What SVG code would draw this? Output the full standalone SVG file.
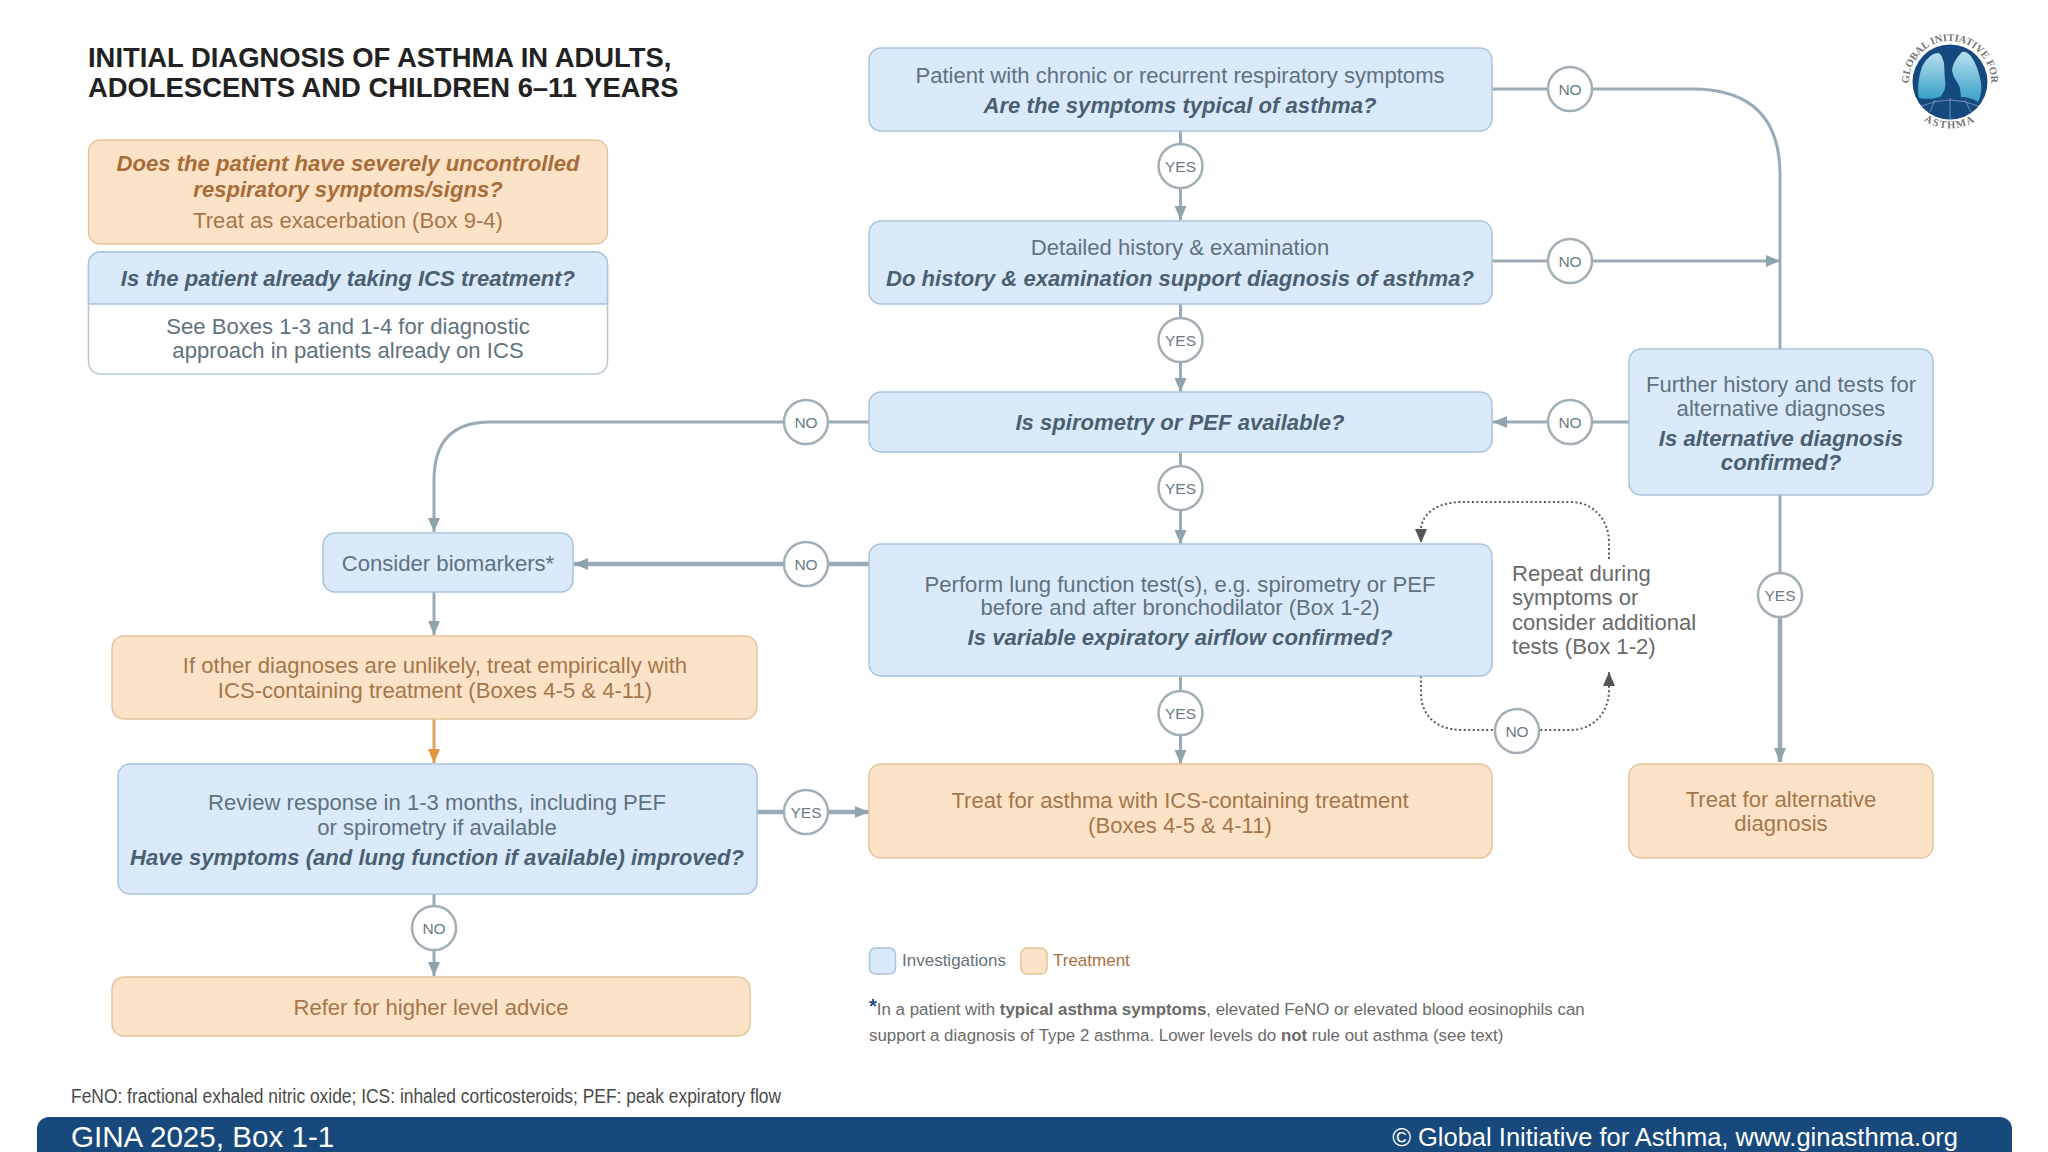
<svg xmlns="http://www.w3.org/2000/svg" width="2048" height="1152" viewBox="0 0 2048 1152">
<style>
text{font-family:"Liberation Sans",Arial,sans-serif}
.b{fill:#daeafa;stroke:#a9c3da;stroke-width:1.5}
.o{fill:#fce3c8;stroke:#e5c49b;stroke-width:1.5}
.t{font-size:22.1px;fill:#5f7280;text-anchor:middle}
.q{font-size:22.1px;fill:#4a5f72;text-anchor:middle;font-weight:bold;font-style:italic}
.ot{font-size:22.1px;fill:#a5764c;text-anchor:middle}
.oq{font-size:22.1px;fill:#a86c38;text-anchor:middle;font-weight:bold;font-style:italic}
.c{fill:#fff;stroke:#a3afb6;stroke-width:2.5}
.cl{font-size:15.5px;fill:#6a7a85;text-anchor:middle}
.l{fill:none;stroke:#9aabb5;stroke-width:3}
.l4{fill:none;stroke:#9aabb5;stroke-width:4.5}
.d{fill:none;stroke:#5a5a5a;stroke-width:2;stroke-dasharray:2 2.5}
.lg{font-size:10.5px;font-family:"Liberation Serif",serif;fill:#777;font-weight:bold}
.rp{font-size:22.1px;fill:#6a6a6a}
</style>
<defs>
<marker id="a" markerWidth="16" markerHeight="14" refX="14" refY="7" markerUnits="userSpaceOnUse" orient="auto"><path d="M0 1L14 7L0 13Z" fill="#8fa3ae"/></marker>
<marker id="ao" markerWidth="16" markerHeight="14" refX="14" refY="7" markerUnits="userSpaceOnUse" orient="auto"><path d="M0 1L14 7L0 13Z" fill="#e3973a"/></marker>
<marker id="ad" markerWidth="16" markerHeight="14" refX="14" refY="7" markerUnits="userSpaceOnUse" orient="auto"><path d="M0 1L14 7L0 13Z" fill="#555"/></marker>
<linearGradient id="lung" x1="0" y1="0" x2="0" y2="1"><stop offset="0" stop-color="#b9e0f0"/><stop offset="1" stop-color="#37a0c8"/></linearGradient>
<path id="arcTop" d="M1910.400 92.600A41 41 0 1 1 1989.600 92.600"/>
<path id="arcBot" d="M1905 95A47 47 0 0 0 1995 95"/>
</defs>
<rect width="2048" height="1152" fill="#fff"/>
<g id="title"><text x="88" y="67" font-size="27.400" font-weight="bold" fill="#222">INITIAL DIAGNOSIS OF ASTHMA IN ADULTS,</text><text x="88" y="97" font-size="27.400" font-weight="bold" fill="#222">ADOLESCENTS AND CHILDREN 6–11 YEARS</text></g>
<g id="logo"><circle cx="1950" cy="82" r="37.500" fill="#15497f"/>
<path d="M1938 53C1932 53 1925 60 1922 67C1919 75 1917 88 1919 98C1928 100 1936 98 1940 97C1945 92 1946 86 1945 80C1944 70 1945 64 1943 60C1942 56 1940 53 1938 53Z" fill="url(#lung)"/>
<path d="M1962 52C1957 57 1953 63 1952 70C1953 78 1958 82 1960 88L1961 97C1967 97 1974 99 1978 102C1982 95 1982 85 1980 78C1978 68 1974 60 1970 55C1967 52 1964 51 1962 52Z" fill="url(#lung)"/>
<path d="M1922 106Q1950 94 1978 106M1935 100L1930 112M1950 98V119M1965 100L1971 112" fill="none" stroke="#8fb2cf" stroke-width="0.700"/>
<text class="lg"><textPath href="#arcTop" startOffset="50%" text-anchor="middle">GLOBAL INITIATIVE FOR</textPath></text>
<text class="lg" letter-spacing="1.500"><textPath href="#arcBot" startOffset="50%" text-anchor="middle">ASTHMA</textPath></text></g>
<g id="connectors">
<path class="l" d="M1492 89H1692Q1780 89 1780 175V349"/>
<path class="l" d="M1492 261H1780" marker-end="url(#a)"/>
<path class="l" d="M1629 422H1493" marker-end="url(#a)"/>
<path class="l" d="M1780 495V572"/><path class="l4" d="M1780 618V762" marker-end="url(#a)"/>
<path class="l" d="M1180.500 131V220" marker-end="url(#a)"/>
<path class="l" d="M1180.500 304V392" marker-end="url(#a)"/>
<path class="l" d="M1180.500 452V544" marker-end="url(#a)"/>
<path class="l" d="M1180.500 676V764" marker-end="url(#a)"/>
<path class="l" d="M869 422H490Q434 422 434 480V532" marker-end="url(#a)"/>
<path class="l4" d="M869 564H574" marker-end="url(#a)"/>
<path class="l" d="M434 592V635" marker-end="url(#a)"/>
<path d="M434 719V763" fill="none" stroke="#e0a060" stroke-width="3" marker-end="url(#ao)"/>
<path class="l4" d="M757 812H869" marker-end="url(#a)"/>
<path class="l" d="M434 894V976" marker-end="url(#a)"/>
<path class="d" d="M1609 559V543C1609 520 1594 502 1570 502H1462C1436 502 1421 515 1421 530V543" marker-end="url(#ad)"/>
<path class="d" d="M1421 676V693C1421 715 1436 730 1462 730H1570C1594 730 1609 712 1609 690V672" marker-end="url(#ad)"/>
</g>
<g id="n-severe"><rect class="o" x="88.500" y="140" width="519" height="104" rx="12"/><text class="oq" x="348" y="171">Does the patient have severely uncontrolled</text><text class="oq" x="348" y="197">respiratory symptoms/signs?</text><text class="ot" x="348" y="228">Treat as exacerbation (Box 9-4)</text></g>
<g id="n-ics"><rect x="88.500" y="252" width="519" height="122" rx="12" fill="#fff" stroke="#b9c7d2" stroke-width="1.500"/><path class="b" d="M88.500 304V264a12 12 0 0 1 12-12H595.500a12 12 0 0 1 12 12V304Z"/><text class="q" x="348" y="286">Is the patient already taking ICS treatment?</text><text class="t" x="348" y="334">See Boxes 1-3 and 1-4 for diagnostic</text><text class="t" x="348" y="358">approach in patients already on ICS</text></g>
<g id="n-symptoms"><rect class="b" x="869" y="48" width="623" height="83" rx="12"/><text class="t" x="1180" y="83">Patient with chronic or recurrent respiratory symptoms</text><text class="q" x="1180" y="113">Are the symptoms typical of asthma?</text></g>
<g id="n-history"><rect class="b" x="869" y="221" width="623" height="83" rx="12"/><text class="t" x="1180" y="255">Detailed history &amp; examination</text><text class="q" x="1180" y="286">Do history &amp; examination support diagnosis of asthma?</text></g>
<g id="n-spiro"><rect class="b" x="869" y="392" width="623" height="60" rx="12"/><text class="q" x="1180" y="430">Is spirometry or PEF available?</text></g>
<g id="n-lung"><rect class="b" x="869" y="544" width="623" height="132" rx="12"/><text class="t" x="1180" y="592">Perform lung function test(s), e.g. spirometry or PEF</text><text class="t" x="1180" y="615">before and after bronchodilator (Box 1-2)</text><text class="q" x="1180" y="645">Is variable expiratory airflow confirmed?</text></g>
<g id="n-alt"><rect class="b" x="1629" y="349" width="304" height="146" rx="12"/><text class="t" x="1781" y="392">Further history and tests for</text><text class="t" x="1781" y="416">alternative diagnoses</text><text class="q" x="1781" y="446">Is alternative diagnosis</text><text class="q" x="1781" y="470">confirmed?</text></g>
<g id="n-biomarkers"><rect class="b" x="323" y="533" width="250" height="59" rx="12"/><text class="t" x="448" y="571">Consider biomarkers*</text></g>
<g id="n-empiric"><rect class="o" x="112" y="636" width="645" height="83" rx="12"/><text class="ot" x="435" y="673">If other diagnoses are unlikely, treat empirically with</text><text class="ot" x="435" y="698">ICS-containing treatment (Boxes 4-5 &amp; 4-11)</text></g>
<g id="n-review"><rect class="b" x="118" y="764" width="639" height="130" rx="12"/><text class="t" x="437" y="810">Review response in 1-3 months, including PEF</text><text class="t" x="437" y="835">or spirometry if available</text><text class="q" x="437" y="865">Have symptoms (and lung function if available) improved?</text></g>
<g id="n-treat"><rect class="o" x="869" y="764" width="623" height="94" rx="12"/><text class="ot" x="1180" y="808">Treat for asthma with ICS-containing treatment</text><text class="ot" x="1180" y="833">(Boxes 4-5 &amp; 4-11)</text></g>
<g id="n-treatalt"><rect class="o" x="1629" y="764" width="304" height="94" rx="12"/><text class="ot" x="1781" y="807">Treat for alternative</text><text class="ot" x="1781" y="831">diagnosis</text></g>
<g id="n-refer"><rect class="o" x="112" y="977" width="638" height="59" rx="12"/><text class="ot" x="431" y="1015">Refer for higher level advice</text></g>
<g id="n-repeat"><text class="rp" x="1512" y="581">Repeat during</text><text class="rp" x="1512" y="605">symptoms or</text><text class="rp" x="1512" y="630">consider additional</text><text class="rp" x="1512" y="654">tests (Box 1-2)</text></g>
<g id="labels">
<g id="c1"><circle class="c" cx="1570" cy="89" r="22"/><text class="cl" x="1570" y="94.500">NO</text></g>
<g id="c2"><circle class="c" cx="1570" cy="261" r="22"/><text class="cl" x="1570" y="266.500">NO</text></g>
<g id="c3"><circle class="c" cx="1570" cy="422" r="22"/><text class="cl" x="1570" y="427.500">NO</text></g>
<g id="c4"><circle class="c" cx="1180.500" cy="166" r="22"/><text class="cl" x="1180.500" y="171.500">YES</text></g>
<g id="c5"><circle class="c" cx="1180.500" cy="340" r="22"/><text class="cl" x="1180.500" y="345.500">YES</text></g>
<g id="c6"><circle class="c" cx="1180.500" cy="488" r="22"/><text class="cl" x="1180.500" y="493.500">YES</text></g>
<g id="c7"><circle class="c" cx="1180.500" cy="713" r="22"/><text class="cl" x="1180.500" y="718.500">YES</text></g>
<g id="c8"><circle class="c" cx="806" cy="422" r="22"/><text class="cl" x="806" y="427.500">NO</text></g>
<g id="c9"><circle class="c" cx="806" cy="564" r="22"/><text class="cl" x="806" y="569.500">NO</text></g>
<g id="c10"><circle class="c" cx="806" cy="812" r="22"/><text class="cl" x="806" y="817.500">YES</text></g>
<g id="c11"><circle class="c" cx="434" cy="928" r="22"/><text class="cl" x="434" y="933.500">NO</text></g>
<g id="c12"><circle class="c" cx="1517" cy="731" r="22"/><text class="cl" x="1517" y="736.500">NO</text></g>
<g id="c13"><circle class="c" cx="1780" cy="595" r="22"/><text class="cl" x="1780" y="600.500">YES</text></g>
</g>
<g id="legend"><rect class="b" x="869.500" y="948" width="26" height="26" rx="6"/><text x="902" y="966" font-size="17" fill="#66727c">Investigations</text><rect class="o" x="1021" y="948" width="26" height="26" rx="6"/><text x="1053" y="966" font-size="17" fill="#a8703f">Treatment</text></g>
<g id="note" font-size="16.900" fill="#6a6a6a"><text x="869" y="1015"><tspan fill="#1f4f85" font-weight="bold" font-size="20" dy="-2">*</tspan><tspan dy="2">In a patient with </tspan><tspan font-weight="bold">typical asthma symptoms</tspan>, elevated FeNO or elevated blood eosinophils can</text><text x="869" y="1041">support a diagnosis of Type 2 asthma. Lower levels do <tspan font-weight="bold">not</tspan> rule out asthma (see text)</text></g>
<text x="71" y="1103" font-size="20" fill="#4a4a4a" textLength="710" lengthAdjust="spacingAndGlyphs">FeNO: fractional exhaled nitric oxide; ICS: inhaled corticosteroids; PEF: peak expiratory flow</text>
<g id="footer"><path d="M37 1152V1129a12 12 0 0 1 12-12H2000a12 12 0 0 1 12 12V1152Z" fill="#17497c"/><text x="71" y="1147" font-size="29.600" fill="#fff">GINA 2025, Box 1-1</text><text x="1958" y="1146" font-size="25.500" fill="#fff" text-anchor="end">© Global Initiative for Asthma, www.ginasthma.org</text></g>
</svg>
